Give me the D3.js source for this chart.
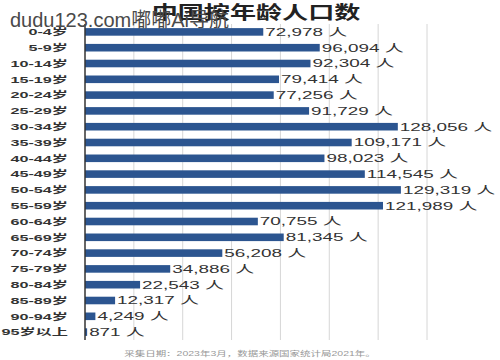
<!DOCTYPE html>
<html><head><meta charset="utf-8">
<script src="https://cdn.jsdelivr.net/npm/d3@7"></script>
<style>body{margin:0;background:#fff}svg{display:block}</style>
</head><body>
<svg id="c" width="500" height="360"></svg>
<script>
const categories = ["0-4岁","5-9岁","10-14岁","15-19岁","20-24岁","25-29岁","30-34岁","35-39岁","40-44岁","45-49岁","50-54岁","55-59岁","60-64岁","65-69岁","70-74岁","75-79岁","80-84岁","85-89岁","90-94岁","95岁以上"];
const values = [72978,96094,92304,79414,77256,91729,128056,109171,98023,114545,129319,121989,70755,81345,56208,34886,22543,12317,4249,871];
const gridTicks = [0,20000,40000,60000,80000,100000,120000,140000];
const title = "中国按年龄人口数";
const footer = "采集日期：2023年3月，数据来源国家统计局2021年。";
const watermark = "dudu123.com嘟嘟Ai导航";

const svg = d3.select("#c");
const font = "'Liberation Sans','Noto Sans CJK SC',Arial,sans-serif";
const x = d3.scaleLinear().domain([0,140000]).range([85,427]);
const y = d3.scaleBand().domain(categories).range([24,340]).paddingInner(0.52).paddingOuter(0.26);

// gridlines
svg.append("g").selectAll("line").data(gridTicks.slice(1)).join("line")
  .attr("x1", d=>x(d)).attr("x2", d=>x(d)).attr("y1",24).attr("y2",340)
  .attr("stroke","#d6d6d6").attr("stroke-width",1);

// bars
svg.append("g").selectAll("rect").data(values).join("rect")
  .attr("x", x(0)).attr("y",(d,i)=>y(categories[i]))
  .attr("width", d=>x(d)-x(0)).attr("height", y.bandwidth())
  .attr("fill","#2c5590");

// axis line
svg.append("line").attr("x1",x(0)).attr("x2",x(0)).attr("y1",24).attr("y2",340)
  .attr("stroke","#333").attr("stroke-width",1.5);

// category labels
svg.append("g").selectAll("text").data(categories).join("text")
  .attr("transform", d=>`translate(68,${y(d)+y.bandwidth()/2+3.2}) scale(1.8,1)`)
  .attr("text-anchor","end").attr("font-family",font).attr("font-size",9)
  .attr("font-weight","bold").attr("fill","#333").text(d=>d);

// value labels
const fmt = d3.format(",");
svg.append("g").selectAll("text").data(values).join("text")
  .attr("transform",(d,i)=>`translate(${x(d)+2},${y(categories[i])+y.bandwidth()/2+3.8}) scale(1.8,1)`)
  .attr("text-anchor","start").attr("font-family",font).attr("font-size",10.5)
  .attr("fill","#333").text(d=>fmt(d)+" 人");

// title
svg.append("text").attr("transform","translate(256,19) scale(1.45,1)")
  .attr("text-anchor","middle").attr("font-family",font).attr("font-size",18)
  .attr("font-weight","bold").attr("fill","#222").text(title);

// watermark
svg.append("text").attr("x",10).attr("y",27).attr("font-family",font)
  .attr("font-size",20).attr("fill","#4a4a4a").text(watermark);

// footer
svg.append("text").attr("transform","translate(250,356) scale(1.5,1)")
  .attr("text-anchor","middle").attr("font-family",font).attr("font-size",7)
  .attr("fill","#999").text(footer);
</script>
</body></html>
